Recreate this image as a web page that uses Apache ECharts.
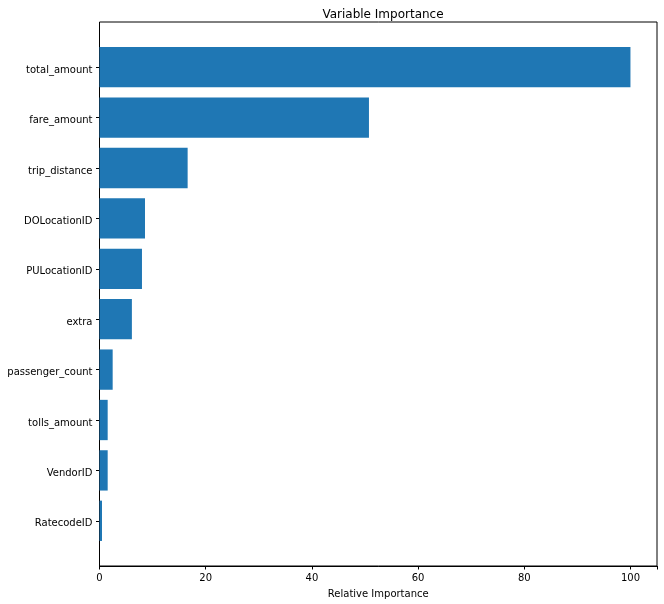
<!DOCTYPE html>
<html><head><meta charset="utf-8">
<script src="https://cdn.jsdelivr.net/npm/echarts@6/dist/echarts.min.js"></script>
<style>html,body{margin:0;padding:0;background:#fff}#c{width:664px;height:604px}</style>
</head><body><div id="c"></div>
<script>
const categories = ['total_amount','fare_amount','trip_distance','DOLocationID','PULocationID','extra','passenger_count','tolls_amount','VendorID','RatecodeID'];
const importance = [100, 50.75, 16.6, 8.57, 8.0, 6.1, 2.48, 1.54, 1.54, 0.47];
const xTicks = [0, 20, 40, 60, 80, 100];

const font = 'DejaVu Sans';
const chart = echarts.init(document.getElementById('c'), null, {renderer: 'canvas'});
chart.setOption({
  animation: false,
  title: {text: 'Variable Importance', left: 378, top: 4, textAlign: 'center',
    textStyle: {fontFamily: font, fontSize: 12, fontWeight: 'normal', color: '#000'}},
  grid: [
    {left: 99.5, right: 7, top: 42, bottom: 58},
    {left: 99.5, right: 7, top: 22, bottom: 38, show: true, borderColor: '#000', borderWidth: 1, backgroundColor: 'transparent'}
  ],
  xAxis: [
    {type: 'value', gridIndex: 0, min: 0, max: 105, interval: 20, offset: 20,
      name: 'Relative Importance', nameLocation: 'middle', nameGap: 23,
      nameTextStyle: {fontFamily: font, fontSize: 10, color: '#000'},
      axisLine: {show: true, lineStyle: {color: '#000'}},
      axisTick: {show: true, length: 3.5, lineStyle: {color: '#000'}},
      axisLabel: {fontFamily: font, fontSize: 10, color: '#000', margin: 7,
        formatter: v => xTicks.includes(v) ? String(v) : ''},
      splitLine: {show: false}},
    {type: 'value', gridIndex: 1, min: 0, max: 1, show: false}
  ],
  yAxis: [
    {type: 'category', gridIndex: 0, data: categories, inverse: true,
      axisLine: {show: false},
      axisTick: {show: true, alignWithLabel: true, length: 3.5, lineStyle: {color: '#000'}},
      axisLabel: {fontFamily: font, fontSize: 10, color: '#000', margin: 7, interval: 0,
        verticalAlign: 'top', lineHeight: 6}},
    {type: 'value', gridIndex: 1, min: 0, max: 1, show: false}
  ],
  series: [{
    type: 'bar', xAxisIndex: 0, yAxisIndex: 0, data: importance,
    barWidth: '80%', itemStyle: {color: '#1f77b4'}
  }]
});
</script></body></html>
